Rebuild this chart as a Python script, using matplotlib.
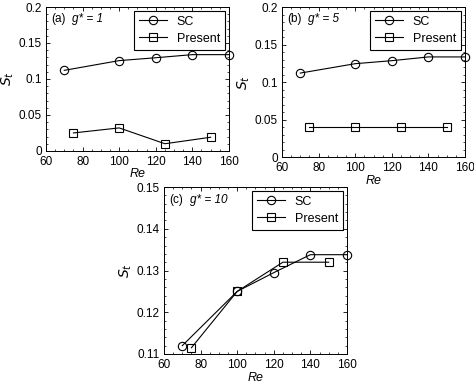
import numpy as np
import matplotlib
matplotlib.use("Agg")
import matplotlib.pyplot as plt
from matplotlib.ticker import AutoMinorLocator

plt.rcParams["font.family"] = ["Liberation Sans", "DejaVu Sans"]
plt.rcParams["font.size"] = 9

# SC reference data (same Re for all panels)
re_sc = [70, 100, 120, 140, 160]
st_sc_a = [0.112, 0.1255, 0.1295, 0.1338, 0.1338]
st_sc_b = [0.112, 0.1245, 0.1285, 0.1335, 0.1335]
st_sc_c = [0.112, 0.125, 0.1295, 0.1338, 0.1338]

# Present data
re_present = [75, 100, 125, 150]
st_present_a = [0.025, 0.032, 0.010, 0.019]
st_present_b = [0.040, 0.040, 0.040, 0.040]
st_present_c = [0.1115, 0.125, 0.132, 0.132]

panel_labels = ["(a)", "(b)", "(c)"]
gap_values = ["1", "5", "10"]

fig = plt.figure(figsize=(4.74, 3.89), dpi=100)

ax_a = fig.add_axes([0.097, 0.612, 0.386, 0.370])
ax_b = fig.add_axes([0.595, 0.596, 0.386, 0.386])
ax_c = fig.add_axes([0.346, 0.09, 0.386, 0.429])

panels = [
    (ax_a, st_sc_a, st_present_a, (0, 0.2), [0, 0.05, 0.1, 0.15, 0.2]),
    (ax_b, st_sc_b, st_present_b, (0, 0.2), [0, 0.05, 0.1, 0.15, 0.2]),
    (ax_c, st_sc_c, st_present_c, (0.11, 0.15), [0.11, 0.12, 0.13, 0.14, 0.15]),
]

for i, (ax, sc, pres, ylim, yticks) in enumerate(panels):
    ax.plot(re_sc, sc, color="black", lw=0.8, marker="o", ms=6,
            mfc="none", mec="black", mew=0.8, label="SC", clip_on=False)
    ax.plot(re_present, pres, color="black", lw=0.8, marker="s", ms=6,
            mfc="none", mec="black", mew=0.8, label="Present", clip_on=False)

    ax.set_xlim(60, 160)
    ax.set_ylim(*ylim)
    ax.set_xticks([60, 80, 100, 120, 140, 160])
    ax.set_yticks(yticks)
    ax.set_yticklabels([f"{v:g}" for v in yticks])
    ax.xaxis.set_minor_locator(AutoMinorLocator(4))
    ax.yaxis.set_minor_locator(AutoMinorLocator(5))
    ax.tick_params(which="both", direction="in", top=True, right=True,
                   labelsize=8.5)
    ax.tick_params(axis="x", pad=3.5)
    ax.tick_params(axis="y", pad=3)
    ax.tick_params(which="major", length=3, width=0.6)
    ax.tick_params(which="minor", length=1.5, width=0.5)
    for sp in ax.spines.values():
        sp.set_linewidth(0.7)

    ax.set_xlabel("Re", style="italic", fontsize=9, labelpad=0.5)
    ax.set_ylabel(r"$S_t$", fontsize=10, labelpad=2)

    ax.text(0.03, 0.92, panel_labels[i], transform=ax.transAxes,
            fontsize=8.5, va="center", ha="left")
    ax.text(0.14, 0.92, f"g* = {gap_values[i]}", transform=ax.transAxes,
            fontsize=8.5, style="italic", va="center", ha="left")

    leg = ax.legend(loc="upper right", fontsize=9, fancybox=False,
                    edgecolor="black", framealpha=1, borderaxespad=0.3,
                    handlelength=2.2, labelspacing=0.4, borderpad=0.4)
    leg.get_frame().set_linewidth(0.8)

fig.savefig("out.png", dpi=100)
